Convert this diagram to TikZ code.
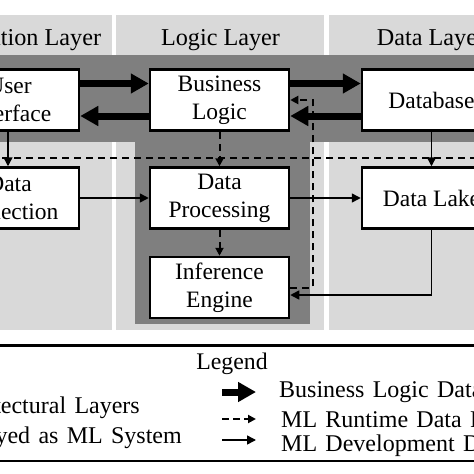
\documentclass[tikz,border=0pt]{standalone}
\usepackage{fontspec}
\setmainfont{Liberation Serif}
\usetikzlibrary{arrows.meta}
\definecolor{lightg}{HTML}{D9D9D9}
\definecolor{darkg}{HTML}{7F7F7F}
\newcommand{\myleg}{\fontsize{24}{28}\selectfont\spaceskip=8.3pt\relax}
\begin{document}
\begin{tikzpicture}[x=1pt,y=-1pt,
  box/.style={draw,line width=2.5pt,fill=white,minimum width=139pt,minimum height=61pt,align=center,inner sep=2pt,font=\fontsize{23.5}{28}\selectfont},
  lbl/.style={font=\fontsize{23.8}{28}\selectfont,inner sep=0pt},
  hdr/.style={font=\fontsize{24.2}{28}\selectfont,inner sep=0pt},
  leg/.style={font=\myleg,inner sep=0pt},
  bigarrow/.style={line width=7pt,-{Triangle[length=18pt,width=19pt]}},
  mlrun/.style={line width=2pt,dash pattern=on 7pt off 5pt,-{Triangle[length=8pt,width=8pt]}},
  mldev/.style={line width=1.5pt,-{Triangle[length=9pt,width=9pt]}},
  legline/.style={line width=2.2pt}]
\useasboundingbox (0,0) rectangle (474,474);
\clip (0,0) rectangle (474,474);
% layer columns
\fill[lightg] (-92,15) rectangle (112,330);
\fill[lightg] (116,15) rectangle (324,330);
\fill[lightg] (329,15) rectangle (540,330);
% ML system region
\fill[darkg] (-100,55) rectangle (560,142);
\fill[darkg] (135,55) rectangle (310,324);
% headers
\node[hdr,anchor=base] (h1) at (10,45) {Presentation Layer};
\node[hdr,anchor=base] (h2) at (220.5,45) {Logic Layer};
\node[hdr,anchor=base] (h3) at (431,45) {Data Layer};
% nodes
\node[box] (UI) at (9.5,100) {User\\Interface};
\node[box] (BL) at (219.5,100) {Business\\Logic};
\node[box] (DB) at (431.5,100) {Database};
\node[box] (DC) at (9.5,198) {Data\\Collection};
\node[box] (DP) at (219.5,198) {Data\\Processing};
\node[box] (DL) at (431.5,198) {Data Lake};
\node[box] (IE) at (219.5,287.5) {Inference\\Engine};
% dashed horizontal line
\coordinate (dl) at (-10,158);
\coordinate (dr) at (490,158);
\draw[line width=2pt,dash pattern=on 7pt off 5pt] (dl) -- (dr);
% business logic flows
\draw[bigarrow] ([yshift=16.5pt]UI.east) -- ([yshift=16.5pt]BL.west);
\draw[bigarrow] ([yshift=-16pt]BL.west) -- ([yshift=-16pt]UI.east);
\draw[bigarrow] ([yshift=16.5pt]BL.east) -- ([yshift=16.5pt]DB.west);
\draw[bigarrow] ([yshift=-16pt]DB.west) -- ([yshift=-16pt]BL.east);
% ML runtime flows
\draw[mlrun] (BL.south) -- (DP.north);
\draw[mlrun] (DP.south) -- (IE.north);
\coordinate (rc) at (313,200);
\draw[mlrun] (IE.east) -| (rc) |- (BL.east);
% ML development flows
\draw[mldev] ([xshift=-1.5pt]UI.south) -- ([xshift=-1.5pt]DC.north);
\draw[mldev] (DB.south) -- (DL.north);
\draw[mldev] (DC.east) -- (DP.west);
\draw[mldev] (DP.east) -- (DL.west);
\draw[mldev] (DL.south) |- ([yshift=-7.5pt]IE.east);
% legend
\coordinate (lt1) at (-10,345.5);
\coordinate (lt2) at (490,345.5);
\coordinate (lb1) at (-10,461);
\coordinate (lb2) at (490,461);
\draw[legline] (lt1) -- (lt2);
\draw[legline] (lb1) -- (lb2);
\node[lbl,anchor=base] (lg) at (232,369) {Legend};
\node[leg,anchor=base east] (la) at (140,413) {Architectural Layers};
\node[leg,anchor=base east] (lm) at (182,443) {Deployed as ML System};
\coordinate (a1s) at (222,392);
\coordinate (a1e) at (256,392);
\coordinate (a2s) at (222,419);
\coordinate (a2e) at (256,419);
\coordinate (a3s) at (222,440);
\coordinate (a3e) at (256,440);
\draw[bigarrow] (a1s) -- (a1e);
\draw[mlrun,dash pattern=on 7pt off 4pt] (a2s) -- (a2e);
\draw[mldev] (a3s) -- (a3e);
\node[leg,anchor=base west] (t1) at (279,397) {Business Logic Data Flow};
\node[leg,anchor=base west] (t2) at (281,427) {ML Runtime Data Flow};
\node[leg,anchor=base west] (t3) at (281,451) {ML Development Data Flow};
\end{tikzpicture}
\end{document}
